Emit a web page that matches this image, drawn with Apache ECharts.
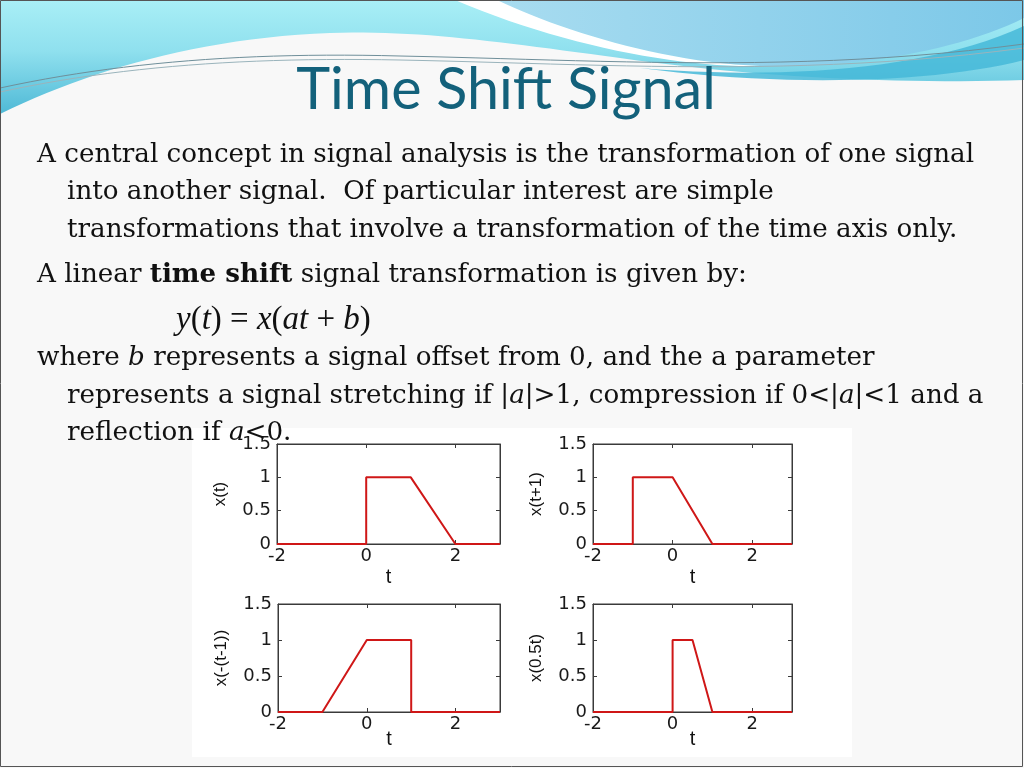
<!DOCTYPE html>
<html><head><meta charset="utf-8">
<script src="https://cdn.jsdelivr.net/npm/echarts@6/dist/echarts.min.js"></script>
<style>html,body{margin:0;padding:0;background:#f8f8f8}#c{width:1024px;height:768px}</style>
</head><body><div id="c"></div>
<script>
// ---- data ----
const tPlot1 = [-2, 0, 0, 1, 2, 3];
const xPlot1 = [0, 0, 1, 1, 0, 0];
const tPlot2 = [-2, -1, -1, 0, 1, 3];
const xPlot2 = [0, 0, 1, 1, 0, 0];
const tPlot3 = [-2, -1, 0, 1, 1, 3];
const xPlot3 = [0, 0, 1, 1, 0, 0];
const tPlot4 = [-2, 0, 0, 0.5, 1, 3];
const xPlot4 = [0, 0, 1, 1, 0, 0];
const yAxisNames = ['x(t)', 'x(t+1)', 'x(-(t-1))', 'x(0.5t)'];
const xAxisName = 't';
const xTickLabels = [-2, 0, 2];
const yTickLabels = [0, 0.5, 1, 1.5];

const tSets = [tPlot1, tPlot2, tPlot3, tPlot4];
const xSets = [xPlot1, xPlot2, xPlot3, xPlot4];

// ---- layout ----
const grids = [
  {left: 277, top: 444, width: 223, height: 100, nameGapX: 23},
  {left: 593, top: 444, width: 199, height: 100, nameGapX: 23},
  {left: 278, top: 604, width: 222, height: 108, nameGapX: 17},
  {left: 593, top: 604, width: 199, height: 108, nameGapX: 17}
];
const axisColor = '#3a3a3a';
const lblFont = {fontFamily: 'DejaVu Sans', fontSize: 18, color: '#1a1a1a'};

const xAxes = [], yAxes = [], series = [];
grids.forEach((g, i) => {
  const common = {type: 'value', gridIndex: i, splitLine: {show: false},
    axisLine: {show: true, onZero: false, lineStyle: {color: axisColor, width: 1}},
    axisTick: {show: true, inside: true, length: 4, lineStyle: {color: axisColor}}};
  xAxes.push(Object.assign({}, common, {position: 'bottom', min: -2, max: 3, interval: 2,
    axisLabel: Object.assign({margin: 3, formatter: v => xTickLabels.includes(v) ? String(v) : ''}, lblFont),
    name: xAxisName, nameLocation: 'middle', nameGap: g.nameGapX, nameMoveOverlap: false,
    nameTextStyle: {fontFamily: 'Liberation Sans', fontSize: 20, color: '#111'}}));
  xAxes.push(Object.assign({}, common, {position: 'top', min: -2, max: 3, interval: 2, axisLabel: {show: false}}));
  yAxes.push(Object.assign({}, common, {position: 'left', min: 0, max: 1.5, interval: 0.5,
    axisLabel: Object.assign({margin: 6, formatter: v => yTickLabels.includes(v) ? String(v) : ''}, lblFont),
    name: yAxisNames[i], nameLocation: 'middle', nameGap: 48, nameMoveOverlap: false,
    nameTextStyle: {fontFamily: 'Liberation Sans', fontSize: 17, color: '#111'}}));
  yAxes.push(Object.assign({}, common, {position: 'right', min: 0, max: 1.5, interval: 0.5, axisLabel: {show: false}}));
  series.push({type: 'line', xAxisIndex: 2 * i, yAxisIndex: 2 * i, showSymbol: false, symbol: 'none',
    lineStyle: {color: '#cf1717', width: 2}, z: 3,
    data: tSets[i].map((t, k) => [t, xSets[i][k]])});
});

// decorative outline sampler (M/L/C commands) -> polygon/polyline points
function samplePath(d) {
  const tok = d.replace(/([MLCZ])/g, ' $1 ').replace(/,/g, ' ').trim().split(/\s+/);
  const pts = []; let i = 0, cmd = null, cur = [0, 0];
  while (i < tok.length) {
    if (/[MLCZ]/.test(tok[i])) { cmd = tok[i++]; if (cmd === 'Z') continue; }
    if (cmd === 'M' || cmd === 'L') { cur = [+tok[i], +tok[i + 1]]; i += 2; pts.push(cur); }
    else if (cmd === 'C') {
      const p1 = [+tok[i], +tok[i + 1]], p2 = [+tok[i + 2], +tok[i + 3]], p3 = [+tok[i + 4], +tok[i + 5]]; i += 6;
      const p0 = cur;
      for (let s = 1; s <= 24; s++) {
        const t = s / 24, u = 1 - t;
        pts.push([u*u*u*p0[0] + 3*u*u*t*p1[0] + 3*u*t*t*p2[0] + t*t*t*p3[0],
                  u*u*u*p0[1] + 3*u*u*t*p1[1] + 3*u*t*t*p2[1] + t*t*t*p3[1]]);
      }
      cur = p3;
    } else i++;
  }
  return pts;
}
function deco(d, style, z, open) {
  return {type: open ? 'polyline' : 'polygon', z: z, silent: true, shape: {points: samplePath(d)}, style: style};
}

const serif = 'DejaVu Serif';
const fs = 26.2;
function line(x, y, text, rich) {
  return {type: 'text', x: x, y: y, z: 100, style: {text: text, fontFamily: serif, fontSize: fs, fill: '#111',
    textVerticalAlign: 'middle', rich: rich || {}}};
}
const richB = {b: {fontFamily: serif, fontSize: fs, fontWeight: 'bold', fill: '#111'}};
const richI = {i: {fontFamily: serif, fontSize: fs, fontStyle: 'italic', fill: '#111'}};

const graphic = [
  {type: 'rect', z: -10, shape: {x: 0, y: 0, width: 1024, height: 768}, style: {fill: '#f8f8f8'}},
  deco('M0,0 L1024,0 L1024,80 C900,84 760,78 620,58 C500,42 420,30 330,33 C200,38 90,70 0,114 Z',
    {fill: {type: 'linear', x: 0, y: 0, x2: 0, y2: 1, colorStops: [{offset: 0, color: '#a9eff6'}, {offset: 0.45, color: '#8fe0ee'}, {offset: 1, color: '#4fb9d6'}]}}, -9),
  deco('M495,0 L1024,0 L1024,18 C960,50 860,68 760,66 C660,62 560,30 495,0 Z',
    {fill: {type: 'linear', x: 0, y: 0, x2: 1, y2: 0, colorStops: [{offset: 0, color: '#a8dcf0'}, {offset: 1, color: '#7cc8e8'}]}}, -8),
  deco('M455,0 L497,0 C560,30 660,62 760,66 C680,68 560,45 455,0 Z', {fill: '#ffffff'}, -8),
  deco('M640,68 C780,80 930,70 1024,26 L1024,60 C940,82 790,88 640,68 Z', {fill: '#45b9d8', opacity: 0.85}, -7),
  deco('M0,88 C120,62 250,52 400,56 C600,60 800,74 1024,44', {fill: null, stroke: '#6f8f9a', lineWidth: 1}, -6, true),
  deco('M0,92 C120,66 250,57 400,60 C600,64 800,78 1024,48', {fill: null, stroke: '#9ab4bc', lineWidth: 1}, -6, true),
  {type: 'rect', z: -5, shape: {x: 192, y: 428, width: 660, height: 329}, style: {fill: '#ffffff'}},
  {type: 'rect', z: 200, shape: {x: 0.5, y: 0.5, width: 1022, height: 766}, style: {fill: null, stroke: '#555', lineWidth: 1}},
  {type: 'text', x: 506, y: 90, z: 100, style: {text: 'Time Shift Signal', fontFamily: 'Lato', fontSize: 57.5, fill: '#13617b',
    textAlign: 'center', textVerticalAlign: 'middle'}},
  line(37, 155, 'A central concept in signal analysis is the transformation of one signal'),
  line(67, 192, 'into another signal.  Of particular interest are simple'),
  line(67, 230, 'transformations that involve a transformation of the time axis only.'),
  line(37, 275, 'A linear {b|time shift} signal transformation is given by:', richB),
  {type: 'text', x: 176, y: 320, z: 100, style: {text: '{i|y}({i|t}) = {i|x}({i|at} + {i|b})', fontFamily: 'Liberation Serif', fontSize: 33, fill: '#111',
    textVerticalAlign: 'middle', rich: {i: {fontFamily: 'Liberation Serif', fontSize: 33, fontStyle: 'italic', fill: '#111'}}}},
  line(37, 358, 'where {i|b} represents a signal offset from 0, and the a parameter', richI),
  line(67, 396, 'represents a signal stretching if |{i|a}|>1, compression if 0<|{i|a}|<1 and a', richI),
  line(67, 433, 'reflection if {i|a}<0.', richI)
];

const chart = echarts.init(document.getElementById('c'));
chart.setOption({
  animation: false,
  backgroundColor: 'transparent',
  grid: grids.map(g => ({left: g.left, top: g.top, width: g.width, height: g.height, show: true,
    backgroundColor: '#fff', borderColor: axisColor, borderWidth: 1, containLabel: false})),
  xAxis: xAxes,
  yAxis: yAxes,
  series: series,
  graphic: {elements: graphic}
});
</script>
</body></html>
